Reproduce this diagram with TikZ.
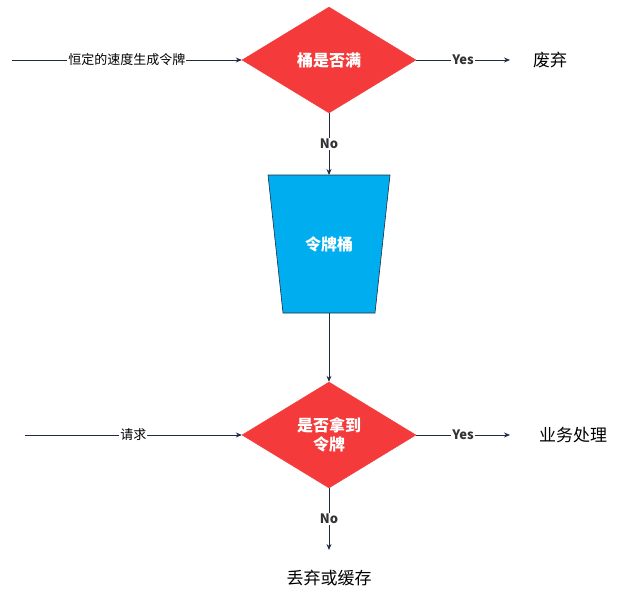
\documentclass[tikz,border=0pt]{standalone}
\usepackage{fontspec}
\setmainfont{Noto Sans CJK SC}
\usetikzlibrary{shapes.geometric,arrows.meta}
\definecolor{rd}{HTML}{F43A3A}
\definecolor{bl}{HTML}{00AEEF}
\definecolor{ln}{HTML}{1F2A44}
\begin{document}
\begin{tikzpicture}[x=1pt,y=-1pt,
  dia/.style={diamond,fill=rd,draw=rd,minimum width=174pt,minimum height=106pt,inner sep=0pt,aspect=1.64,text=white,font=\fontsize{16}{19}\selectfont\bfseries,align=center},
  arr/.style={draw=ln,line width=0.8pt,-{Stealth[length=6pt,width=5pt]}},
  lab/.style={fill=white,inner sep=1pt,font=\fontsize{13}{15}\selectfont,text=black},
  yl/.style={fill=white,inner sep=1pt,font=\fontsize{13}{15}\selectfont\bfseries,text=black!80},
  txt/.style={font=\fontsize{17}{19}\selectfont,text=black}]
\useasboundingbox (0,0) rectangle (644,605);
\node[dia] (d1) at (329,60) {桶是否满};
\node[dia] (d2) at (329,435) {是否拿到\\令牌};
\fill[bl,draw=ln,line width=0.6pt] (268,175) -- (390,175) -- (375,313) -- (283,313) -- cycle;
\node[text=white,font=\fontsize{16}{19}\selectfont\bfseries] (tb) at (329,244) {令牌桶};
\coordinate (tbt) at (329,175);
\coordinate (tbb) at (329,313);
\coordinate (s1) at (12,60);
\coordinate (s2) at (25,435);
\node[txt] (w1) at (550,60) {废弃};
\node[txt] (w2) at (573,435) {业务处理};
\node[txt] (w3) at (329,578) {丢弃或缓存};
\coordinate (e1) at (510,60);
\coordinate (e2) at (510,435);
\coordinate (e3) at (329,550);
\draw[arr] (s1) -- node[lab]{恒定的速度生成令牌} (d1.west);
\draw[arr] (d1.east) -- node[yl]{Yes} (e1);
\draw[arr] (d1.south) -- node[yl]{No} (tbt);
\draw[arr] (tbb) -- (d2.north);
\draw[arr] (s2) -- node[lab]{请求} (d2.west);
\draw[arr] (d2.east) -- node[yl]{Yes} (e2);
\draw[arr] (d2.south) -- node[yl]{No} (e3);
\end{tikzpicture}
\end{document}
